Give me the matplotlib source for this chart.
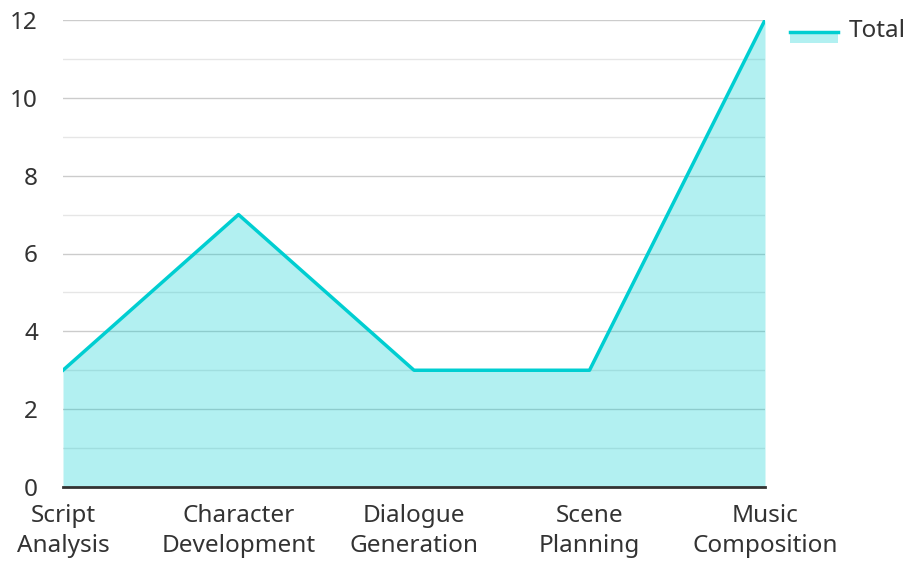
import matplotlib.pyplot as plt
from matplotlib.patches import Rectangle
from matplotlib.lines import Line2D

plt.rcParams["font.family"] = ["Noto Sans", "DejaVu Sans"]

categories = ["Script\nAnalysis", "Character\nDevelopment", "Dialogue\nGeneration",
              "Scene\nPlanning", "Music\nComposition"]
totals = [3, 7, 3, 3, 12]
series_name = "Total"

color = "#00CED1"
W, H = 906, 561
fs = 17.5

fig = plt.figure(figsize=(W / 100, H / 100), dpi=100)
ax = fig.add_axes([63 / W, 1 - 487 / H, (765 - 63) / W, (487 - 20) / H])

x = list(range(len(categories)))
ax.fill_between(x, totals, 0, color=color, alpha=0.3, linewidth=0, zorder=2)
ax.plot(x, totals, color=color, linewidth=2.5, zorder=3)

ax.set_xlim(0, len(categories) - 1)
ax.set_ylim(0, 12)
ax.set_yticks(range(0, 13, 2))
ax.set_yticks(range(1, 13, 2), minor=True)
ax.grid(axis="y", which="major", color="#cccccc", linewidth=1, zorder=1)
ax.grid(axis="y", which="minor", color="#e6e6e6", linewidth=1, zorder=1)
ax.set_axisbelow(True)
ax.set_xticks(x)
ax.set_xticklabels(categories, linespacing=1.33)
ax.tick_params(axis="both", which="both", length=0, labelsize=fs, colors="#333333")
ax.tick_params(axis="y", pad=18)
ax.tick_params(axis="x", pad=12)
for s in ["top", "right", "left"]:
    ax.spines[s].set_visible(False)
ax.spines["bottom"].set_color("#333333")
ax.spines["bottom"].set_linewidth(2)
ax.spines["bottom"].set_zorder(4)

# legend drawn by hand: line on top of a light patch
fig.patches.append(Rectangle((790 / W, 1 - 43 / H), 48 / W, 12 / H,
                             transform=fig.transFigure, facecolor=color,
                             alpha=0.3, edgecolor="none"))
fig.lines.append(Line2D([790 / W, 838 / W], [1 - 31.5 / H, 1 - 31.5 / H],
                        transform=fig.transFigure, color=color, linewidth=2.5))
fig.text(849 / W, 1 - 31 / H, series_name, fontsize=fs, color="#333333",
         va="center", ha="left")

fig.savefig("out.png", dpi=100)
